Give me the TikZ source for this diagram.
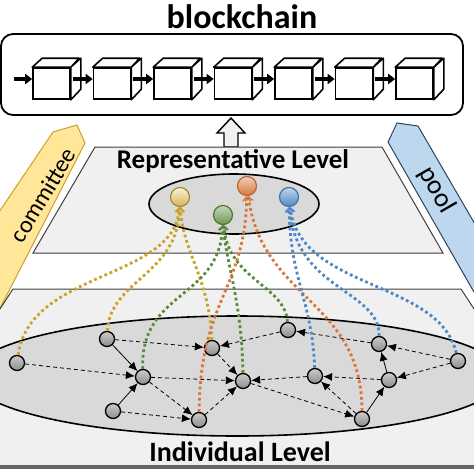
\documentclass[tikz,border=0pt]{standalone}
\usepackage{fontspec}
\setmainfont{Carlito}
\usetikzlibrary{arrows.meta,positioning,calc}

\definecolor{planegray}{HTML}{F0F0F0}
\definecolor{ellgray}{HTML}{D9D9D9}
\definecolor{cgold}{HTML}{C9A22A}
\definecolor{cgreen}{HTML}{5B8C3E}
\definecolor{corange}{HTML}{D9773A}
\definecolor{cblue}{HTML}{4F88C6}
\definecolor{bannergold}{HTML}{FFE699}
\definecolor{bannerblue}{HTML}{BDD7EE}
\definecolor{bannernavy}{HTML}{2E4460}

\tikzset{
  indiv/.style={circle, draw=black, line width=1.3pt, top color=gray!40,
    bottom color=gray!90, minimum size=15pt, inner sep=0pt},
  repnode/.style={circle, line width=1.2pt, minimum size=19pt, inner sep=0pt},
  link/.style={dashed, line width=0.8pt, dash pattern=on 4pt off 3pt,
    -{Latex[length=9pt,width=8pt]}},
  solidlink/.style={line width=0.8pt, -{Latex[length=9pt,width=8pt]}},
  vote/.style={line width=2.8pt, dash pattern=on 2.8pt off 2.8pt,
    -{Straight Barb[length=4pt,width=8pt,line width=1.3pt]}},
  block/.style={draw, line width=1.6pt, fill=white, minimum width=37pt,
    minimum height=31pt, inner sep=0pt},
  chainarrow/.style={line width=3.4pt, -{Triangle[length=7pt,width=10pt]}},
  title/.style={font=\bfseries\fontsize{26}{26}\selectfont}
}

\begin{document}
\begin{tikzpicture}[x=1pt,y=-1pt]
    \useasboundingbox (0,0) rectangle (474,474);

    % Side banners
    \fill[bannergold, draw=cgold, line width=1pt]
        (53,132) -- (77,125) -- (85,143) -- (-5,318) -- (-5,218) -- cycle;
    \node[rotate=59, font=\fontsize{24}{24}\selectfont] (committee) at (43,195) {committee};
    \fill[bannerblue, draw=bannernavy, line width=1pt]
        (388,142) -- (397,123) -- (418,126) -- (490,250) -- (490,320) -- cycle;
    \node[rotate=-60, font=\fontsize{27}{27}\selectfont] (pool) at (437,190) {pool};

    % Blockchain
    \node[title, font=\bfseries\fontsize{34}{34}\selectfont] (bctitle) at (242,17) {blockchain};
    \draw[line width=1.8pt, rounded corners=12pt] (1,34) rectangle (463,115);
    \foreach \i in {1,...,7} {
        \node[block] (b\i) at ({51.5+60.5*(\i-1)},83.5) {};
        \draw[line width=1.6pt, fill=white, line join=round]
            (b\i.north west) -- ++(10,-9) -- ++(37,0) -- (b\i.north east) -- cycle
            (b\i.north east) -- ++(10,-9) -- ++(0,31) -- (b\i.south east) -- cycle;
    }
    \coordinate (start) at (14,79);
    \draw[chainarrow] (start) -- ([yshift=4.5pt]b1.west);
    \foreach \i [evaluate=\i as \j using int(\i+1)] in {1,...,6} {
        \draw[chainarrow] ([xshift=2pt,yshift=4.5pt]b\i.east) -- ([yshift=4.5pt]b\j.west);
    }

    % Upward arrow
    \draw[line width=1.4pt, fill=planegray]
        (224,147) -- (224,133) -- (217,133) -- (231,118) -- (245,133)
        -- (238,133) -- (238,147) -- cycle;

    % Representative Level
    \draw[draw=black!75, fill=planegray, line width=1pt]
        (95,147) -- (382,147) -- (443,253) -- (33,253) -- cycle;
    \node[title, font=\bfseries\fontsize{27}{27}\selectfont] (replabel) at (233,161) {Representative Level};
    \draw[line width=1.6pt, fill=ellgray] (234,204) ellipse (85 and 30);
    \node[repnode, draw=cgold!85!black, top color=cgold!15!white, bottom color=cgold!80!white] (ry) at (180,197) {};
    \node[repnode, draw=corange!85!black, top color=corange!35!white, bottom color=corange] (ro) at (247,186) {};
    \node[repnode, draw=cgreen!85!black, top color=cgreen!35!white, bottom color=cgreen!90!white] (rg) at (223,215) {};
    \node[repnode, draw=cblue!85!black, top color=cblue!35!white, bottom color=cblue] (rb) at (289,197) {};

    % Individual Level
    \draw[draw=black!75, fill=planegray, line width=1pt]
        (13,289) -- (461,289) -- (480,318) -- (480,466) -- (-6,466) -- (-6,318) -- cycle;
    \fill[black!60] (-6,465) rectangle (480,469);
    \draw[line width=1.6pt, fill=ellgray] (237,376) ellipse (267 and 60);
    \node[title, font=\bfseries\fontsize{28}{28}\selectfont] (indlabel) at (240,452) {Individual Level};

    \node[indiv] (a1) at (17,363) {};
    \node[indiv] (a2) at (107,339) {};
    \node[indiv] (a3) at (143,377) {};
    \node[indiv] (a4) at (113,411) {};
    \node[indiv] (a5) at (212,348) {};
    \node[indiv] (a6) at (199,420) {};
    \node[indiv] (a7) at (243,381) {};
    \node[indiv] (a8) at (288,330) {};
    \node[indiv] (a9) at (315,376) {};
    \node[indiv] (a10) at (379,344) {};
    \node[indiv] (a11) at (389,380) {};
    \node[indiv] (a12) at (458,361) {};
    \node[indiv] (a13) at (362,419) {};

    % Links between individuals
    \draw[link] (a1) -- (a3);
    \draw[solidlink] (a2) -- (a3);
    \draw[link] (a2) -- (a5);
    \draw[solidlink] (a4) -- (a3);
    \draw[link] (a4) -- (a6);
    \draw[link] (a3) -- (a6);
    \draw[link] (a3) -- (a7);
    \draw[link] (a5) -- (a7);
    \draw[link] (a6) -- (a7);
    \draw[link] (a8) -- (a5);
    \draw[link] (a10) -- (a8);
    \draw[link] (a9) -- (a7);
    \draw[link] (a11) -- (a9);
    \draw[link] (a13) -- (a9);
    \draw[link] (a7) -- (a13);
    \draw[solidlink] (a13) -- (a11);
    \draw[solidlink] (a11) -- (a10);
    \draw[link] (a12) -- (a10);
    \draw[link] (a12) -- (a11);

    % Votes for representatives
    \draw[vote, cgold] (a1) .. controls (30,270) and (175,280) .. (ry);
    \draw[vote, cgold] (a2) .. controls (110,280) and (178,275) .. (ry);
    \draw[vote, cgold] (a5) .. controls (210,280) and (182,250) .. (ry);
    \draw[vote, cgreen] (a3) .. controls (140,290) and (220,300) .. (rg);
    \draw[vote, cgreen] (a7) .. controls (242,300) and (225,260) .. (rg);
    \draw[vote, cgreen] (a8) .. controls (285,285) and (228,280) .. (rg);
    \draw[vote, corange] (a6) .. controls (200,300) and (245,290) .. (ro);
    \draw[vote, corange] (a13) .. controls (362,300) and (262,300) .. (ro);
    \draw[vote, cblue] (a9) .. controls (312,300) and (290,280) .. (rb);
    \draw[vote, cblue] (a10) .. controls (380,290) and (295,290) .. (rb);
    \draw[vote, cblue] (a12) .. controls (440,280) and (300,290) .. (rb);
\end{tikzpicture}
\end{document}
